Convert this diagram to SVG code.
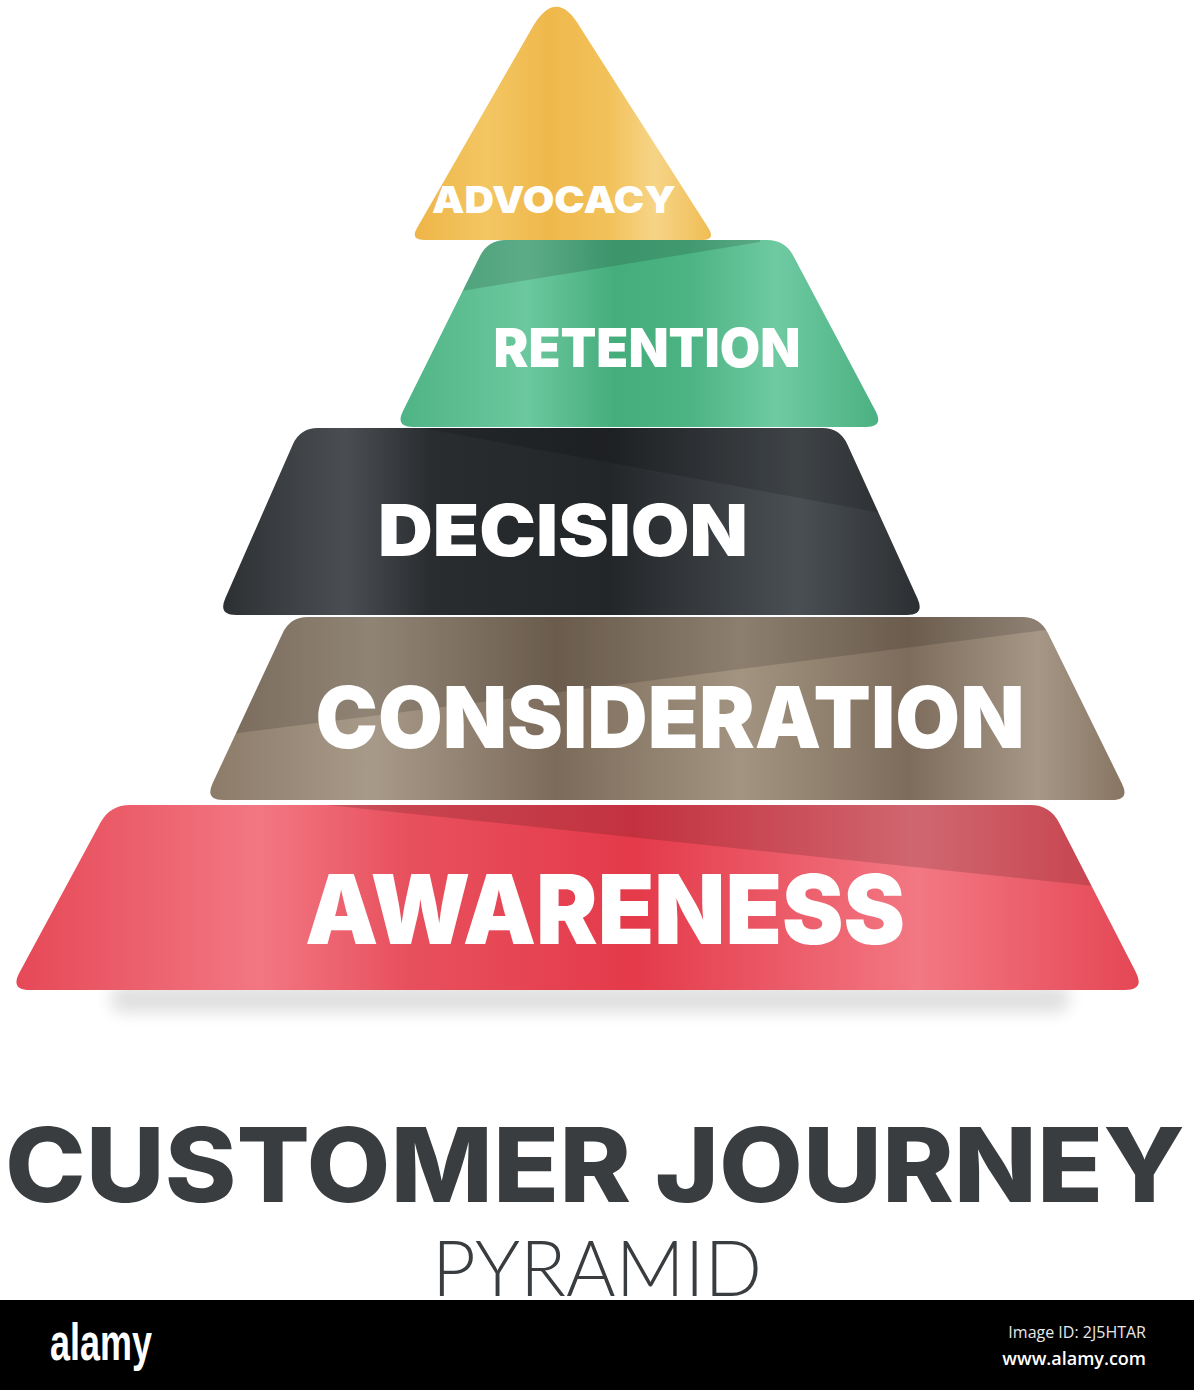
<svg xmlns="http://www.w3.org/2000/svg" width="1194" height="1390" viewBox="0 0 1194 1390">
<defs>
<style>
.lbl{font-family:Inter,"Liberation Sans",sans-serif;font-weight:900;fill:#ffffff;text-anchor:middle}
.title{font-family:Inter,"Liberation Sans",sans-serif;font-weight:800;fill:#3a3d3f;text-anchor:middle}
.sub{font-family:Lato,"Open Sans","Liberation Sans",sans-serif;font-weight:300;fill:#3a3d3f;text-anchor:middle}
.wedge{fill:#000;opacity:0.14}
</style>
<linearGradient id="gAdv" gradientUnits="userSpaceOnUse" x1="410" y1="0" x2="716" y2="0">
<stop offset="0" stop-color="#eeb446"/><stop offset="0.25" stop-color="#f3c663"/><stop offset="0.45" stop-color="#efb84b"/><stop offset="0.65" stop-color="#f2c25a"/><stop offset="0.8" stop-color="#f6d487"/><stop offset="1" stop-color="#efbb4f"/>
</linearGradient>
<linearGradient id="gRet" gradientUnits="userSpaceOnUse" x1="395" y1="0" x2="884" y2="0">
<stop offset="0" stop-color="#4db384"/><stop offset="0.27" stop-color="#6cc89e"/><stop offset="0.45" stop-color="#45ad7c"/><stop offset="0.6" stop-color="#4cb383"/><stop offset="0.78" stop-color="#6fcaa2"/><stop offset="1" stop-color="#49b080"/>
</linearGradient>
<linearGradient id="gDec" gradientUnits="userSpaceOnUse" x1="218" y1="0" x2="925" y2="0">
<stop offset="0" stop-color="#2c2f32"/><stop offset="0.18" stop-color="#4a4e52"/><stop offset="0.3" stop-color="#2a2d30"/><stop offset="0.55" stop-color="#232629"/><stop offset="0.82" stop-color="#4a4f53"/><stop offset="1" stop-color="#2b2e31"/>
</linearGradient>
<linearGradient id="gCon" gradientUnits="userSpaceOnUse" x1="205" y1="0" x2="1130" y2="0">
<stop offset="0" stop-color="#8b7a68"/><stop offset="0.18" stop-color="#a89a89"/><stop offset="0.38" stop-color="#7c6b5a"/><stop offset="0.58" stop-color="#a39481"/><stop offset="0.76" stop-color="#7d6c5b"/><stop offset="0.9" stop-color="#a69787"/><stop offset="1" stop-color="#85735f"/>
</linearGradient>
<linearGradient id="gAwa" gradientUnits="userSpaceOnUse" x1="10" y1="0" x2="1145" y2="0">
<stop offset="0" stop-color="#e64755"/><stop offset="0.22" stop-color="#f27783"/><stop offset="0.35" stop-color="#e8505d"/><stop offset="0.55" stop-color="#e43a4a"/><stop offset="0.8" stop-color="#f27883"/><stop offset="1" stop-color="#e54553"/>
</linearGradient>
<filter id="blur" x="-20%" y="-50%" width="140%" height="200%"><feGaussianBlur stdDeviation="8"/></filter>
<clipPath id="cRet"><path d="M506,240 L767,240 Q785,240 793.4,255.9 L875.6,411.1 Q884,427 866,427 L413,427 Q395,427 403,411 L480,256 Q488,240 506,240 Z"/></clipPath>
<clipPath id="cDec"><path d="M318,428 L822,428 Q840,428 847.4,444.4 L917.5,598.6 Q925,615 907,615 L236,615 Q218,615 225.2,598.5 L292.8,444.5 Q300,428 318,428 Z"/></clipPath>
<clipPath id="cCon"><path d="M308,617 L1022,617 Q1040,617 1047.9,633.1 L1122.1,783.9 Q1130,800 1112,800 L223,800 Q205,800 212.5,783.6 L282.5,633.4 Q290,617 308,617 Z"/></clipPath>
<clipPath id="cAwa"><path d="M130,805 L1030,805 Q1050,805 1059.1,822.8 L1135.9,972.2 Q1145,990 1125,990 L30,990 Q10,990 19.5,972.4 L100.5,822.6 Q110,805 130,805 Z"/></clipPath>
</defs>
<rect width="1194" height="1390" fill="#ffffff"/>

<!-- shadow under base -->
<rect x="110" y="985" width="960" height="28" rx="14" fill="#000" opacity="0.12" filter="url(#blur)"/>

<g id="awareness">
<path d="M130,805 L1030,805 Q1050,805 1059.1,822.8 L1135.9,972.2 Q1145,990 1125,990 L30,990 Q10,990 19.5,972.4 L100.5,822.6 Q110,805 130,805 Z" fill="url(#gAwa)"/>
<polygon class="wedge" clip-path="url(#cAwa)" points="280,800 1150,800 1150,892"/>
<text class="lbl" x="605" y="944" font-size="96" textLength="600" lengthAdjust="spacingAndGlyphs">AWARENESS</text>
</g>

<g id="consideration">
<path d="M308,617 L1022,617 Q1040,617 1047.9,633.1 L1122.1,783.9 Q1130,800 1112,800 L223,800 Q205,800 212.5,783.6 L282.5,633.4 Q290,617 308,617 Z" fill="url(#gCon)"/>
<polygon class="wedge" clip-path="url(#cCon)" points="200,612 1140,612 1140,618 200,738"/>
<text class="lbl" x="670" y="748" font-size="85" textLength="709" lengthAdjust="spacingAndGlyphs">CONSIDERATION</text>
</g>

<g id="decision">
<path d="M318,428 L822,428 Q840,428 847.4,444.4 L917.5,598.6 Q925,615 907,615 L236,615 Q218,615 225.2,598.5 L292.8,444.5 Q300,428 318,428 Z" fill="url(#gDec)"/>
<polygon class="wedge" clip-path="url(#cDec)" points="400,424 930,424 930,522"/>
<text class="lbl" x="563" y="556" font-size="72" textLength="370" lengthAdjust="spacingAndGlyphs">DECISION</text>
</g>

<g id="retention">
<path d="M506,240 L767,240 Q785,240 793.4,255.9 L875.6,411.1 Q884,427 866,427 L413,427 Q395,427 403,411 L480,256 Q488,240 506,240 Z" fill="url(#gRet)"/>
<polygon class="wedge" clip-path="url(#cRet)" points="470,236 760,236 760,242 455,292"/>
<text class="lbl" x="647" y="367" font-size="54" textLength="307" lengthAdjust="spacingAndGlyphs">RETENTION</text>
</g>

<g id="advocacy">
<path d="M532,28 Q556,-14 580,27 L708.5,228.2 Q716,240 702,240 L424,240 Q410,240 417,227.9 Z" fill="url(#gAdv)"/>
<text class="lbl" x="554" y="213" font-size="37" textLength="244" lengthAdjust="spacingAndGlyphs">ADVOCACY</text>
</g>

<g id="title">
<text class="title" x="595" y="1202" font-size="103" textLength="1180" lengthAdjust="spacingAndGlyphs">CUSTOMER JOURNEY</text>
<text class="sub" x="597" y="1296" font-size="77" textLength="330" lengthAdjust="spacingAndGlyphs">PYRAMID</text>
</g>

<g id="footer">
<rect x="0" y="1300" width="1194" height="90" fill="#000000"/>
<text x="50" y="1360" font-family="'Liberation Sans Narrow','Liberation Sans',sans-serif" font-weight="700" font-size="52" fill="#ffffff" textLength="102" lengthAdjust="spacingAndGlyphs">alamy</text>
<text x="1146" y="1338" font-family="'Open Sans','Liberation Sans',sans-serif" font-size="16" fill="#e8e8e8" text-anchor="end">Image ID: 2J5HTAR</text>
<text x="1146" y="1365" font-family="'Open Sans','Liberation Sans',sans-serif" font-weight="600" font-size="18" fill="#ffffff" text-anchor="end">www.alamy.com</text>
</g>
</svg>
